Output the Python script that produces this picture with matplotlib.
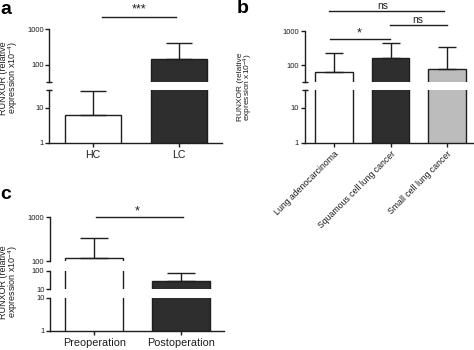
import matplotlib
matplotlib.use('Agg')
import matplotlib.pyplot as plt
import matplotlib.ticker as mt
import numpy as np

plt.rcParams['font.family'] = ['Liberation Sans', 'DejaVu Sans']
plt.rcParams['mathtext.fontset'] = 'custom'
plt.rcParams['mathtext.rm'] = 'Liberation Sans'
plt.rcParams['mathtext.it'] = 'Liberation Sans'

# ---------------- data ----------------
a_cats = ['HC', 'LC']
a_mean = [6, 141]
a_sd = [23, 257]

b_cats = ['Lung adenocarcinoma', 'Squamous cell lung cancer', 'Small cell lung cancer']
b_mean = [65, 166, 80]
b_sd = [159, 271, 255]

c_cats = ['Preoperation', 'Postoperation']
c_mean = [119, 29]
c_sd = [217, 49]

ylabel = 'RUNXOR (relative\nexpression x10$^{-4}$)'

W, H = 474, 350
fig = plt.figure(figsize=(W / 100, H / 100), dpi=100)
INK = '#1e1e1e'
DARK = '#2e2e2e'
GREY = '#bcbcbc'


def make_panel(left, right, segments, xlim, cats, means, sds, colors, width,
               capsize, xfs, rot=0):
    axes = []
    x = np.arange(len(cats))
    means = np.asarray(means, float)
    sds = np.asarray(sds, float)
    for i, (ylo, yhi, top, bot, ticks, caps) in enumerate(segments):
        ax = fig.add_axes([left / W, 1 - bot / H, (right - left) / W, (bot - top) / H])
        ax.set_facecolor('none')
        ax.set_yscale('log')
        ax.set_ylim(ylo, yhi)
        ax.set_xlim(*xlim)
        ax.bar(x, means - 0.5, bottom=0.5, width=width, color=colors,
               edgecolor=INK, linewidth=1.0)
        ax.errorbar(x, means, yerr=[np.zeros_like(sds), sds], fmt='none',
                    ecolor=INK, elinewidth=1.0, capsize=capsize, capthick=1.0)
        for s in ('top', 'right'):
            ax.spines[s].set_visible(False)
        ax.spines['left'].set_color(INK)
        ax.spines['left'].set_linewidth(1.0)
        ax.yaxis.set_major_locator(mt.FixedLocator(ticks))
        ax.yaxis.set_major_formatter(mt.FixedFormatter([str(t) for t in ticks]))
        ax.yaxis.set_minor_locator(mt.FixedLocator(caps))
        ax.yaxis.set_minor_formatter(mt.NullFormatter())
        ax.tick_params(axis='y', which='major', direction='out', length=3,
                       width=1.0, color=INK, labelsize=5.5, labelcolor=INK, pad=1)
        ax.tick_params(axis='y', which='minor', direction='inout', length=4,
                       width=1.0, color=INK)
        if i == len(segments) - 1:
            ax.spines['bottom'].set_color(INK)
            ax.spines['bottom'].set_linewidth(1.0)
            ax.set_xticks(x)
            if rot:
                ax.set_xticklabels(cats, rotation=rot, ha='right', va='top',
                                   rotation_mode='anchor')
            else:
                ax.set_xticklabels(cats)
            ax.tick_params(axis='x', direction='out', length=3, width=1.0,
                           color=INK, labelsize=xfs, labelcolor=INK, pad=2)
        else:
            ax.spines['bottom'].set_visible(False)
            ax.tick_params(axis='x', bottom=False, labelbottom=False)
        axes.append(ax)
    return axes


# ---------------- panel a ----------------
axa = make_panel(49.3, 222,
                 [(32, 1000, 29.3, 82, [100, 1000], [32]),
                  (1, 32, 90, 142.7, [1, 10], [32])],
                 (-0.51, 1.5), a_cats, a_mean, a_sd, ['white', DARK], 0.66,
                 9.5, 7.6)
t = axa[0]
t.plot([0.1, 0.97], [2300, 2300], color=INK, lw=1.0, clip_on=False)
t.text(0.53, 2500, '***', ha='center', va='bottom', fontsize=9, color=INK,
       clip_on=False)

# ---------------- panel b ----------------
axb = make_panel(304.7, 473,
                 [(32, 1000, 31, 82.3, [100, 1000], [32]),
                  (1, 32, 90, 142.7, [1, 10], [32])],
                 (-0.53, 2.47), b_cats, b_mean, b_sd, ['white', DARK, GREY], 0.675,
                 6.5, 6.3, rot=45)
t = axb[0]
t.plot([-0.1, 1.96], [3830, 3830], color=INK, lw=1.0, clip_on=False)
t.text(0.86, 3830, 'ns', ha='center', va='bottom', fontsize=7.5, color=INK,
       clip_on=False)
t.plot([0.99, 2.0], [1470, 1470], color=INK, lw=1.0, clip_on=False)
t.text(1.48, 1470, 'ns', ha='center', va='bottom', fontsize=7.5, color=INK,
       clip_on=False)
t.plot([-0.08, 0.99], [573, 573], color=INK, lw=1.0, clip_on=False)
t.text(0.44, 573, '*', ha='center', va='bottom', fontsize=9, color=INK,
       clip_on=False)

# ---------------- panel c ----------------
axc = make_panel(50, 224,
                 [(100, 1000, 217.3, 261.3, [100, 1000], []),
                  (10, 100, 270.7, 289.3, [10, 100], []),
                  (1, 10, 298, 330.7, [1, 10], [])],
                 (-0.51, 1.5), c_cats, c_mean, c_sd, ['white', DARK], 0.67,
                 10.4, 7.8)
t = axc[0]
t.plot([0.02, 1.03], [1000, 1000], color=INK, lw=1.0, clip_on=False)
t.text(0.5, 1000, '*', ha='center', va='bottom', fontsize=9, color=INK,
       clip_on=False)

# ---------------- labels ----------------
fig.text(9.5 / W, 1 - 78 / H, ylabel, rotation=90, ha='center', va='center',
         multialignment='center', fontsize=6.5, color=INK, linespacing=0.85)
fig.text(246 / W, 1 - 87 / H, ylabel, rotation=90, ha='center', va='center',
         multialignment='center', fontsize=6.0, color=INK, linespacing=0.85)
fig.text(9.5 / W, 1 - 282 / H, ylabel, rotation=90, ha='center', va='center',
         multialignment='center', fontsize=6.5, color=INK, linespacing=0.85)

fig.text(0 / W, 1 - 1 / H, 'a', fontsize=14, fontweight='bold', va='top',
         ha='left', color='black')
fig.text(237 / W, 1 - 0 / H, 'b', fontsize=14, fontweight='bold', va='top',
         ha='left', color='black')
fig.text(0 / W, 1 - 186 / H, 'c', fontsize=14, fontweight='bold', va='top',
         ha='left', color='black')

fig.savefig('out.png', dpi=100)
